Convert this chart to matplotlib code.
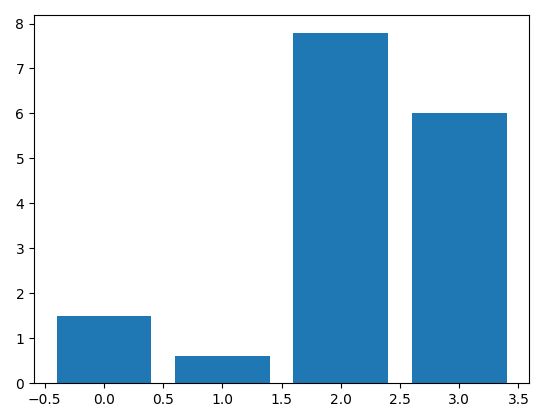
import matplotlib
matplotlib.use("Agg")
import matplotlib.pyplot as plt

positions = [0, 1, 2, 3]
values = [1.5, 0.6, 7.8, 6.0]

fig, ax = plt.subplots(figsize=(5.41, 4.17), dpi=100)
fig.subplots_adjust(left=0.063, right=0.978, bottom=0.0815, top=0.964)
ax.bar(positions, values, color="#1f77b4")
fig.savefig("out.png", dpi=100)
